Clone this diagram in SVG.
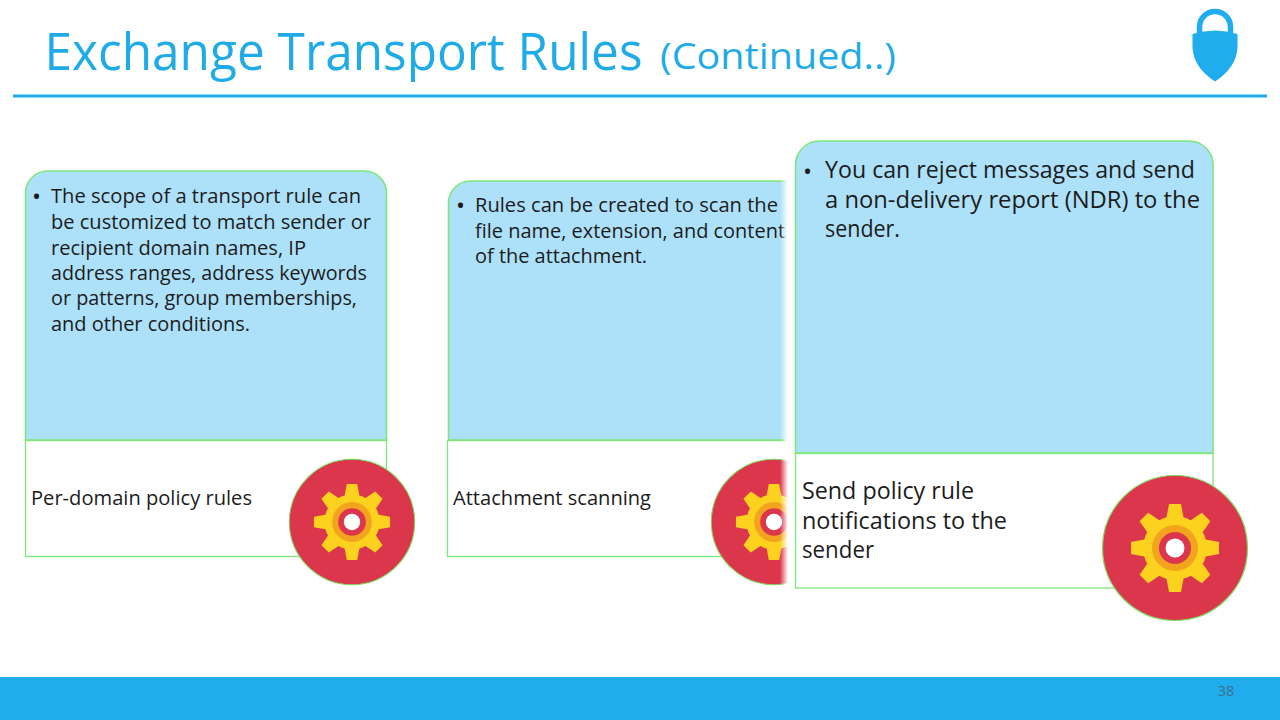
<svg xmlns="http://www.w3.org/2000/svg" xmlns:xlink="http://www.w3.org/1999/xlink" width="1280" height="720" viewBox="0 0 1280 720">
<style>
text{font-family:"Open Sans","Noto Sans","Liberation Sans",sans-serif;fill:#1c1c1c}
.title{fill:#1fabe8}
.blue{fill:#ade0f9;stroke:#7de87a;stroke-width:1.6}
.white{fill:#fff;stroke:#7de87a;stroke-width:1.3}
.b1{font-size:19.5px}
.b3{font-size:23px}
.dot{font-size:24px}
</style>
<defs>
<linearGradient id="fade" x1="0" x2="1" y1="0" y2="0"><stop offset="0" stop-color="#fff" stop-opacity="0"/><stop offset="1" stop-color="#fff"/></linearGradient>
<clipPath id="cut"><rect x="0" y="0" width="788" height="720"/></clipPath>
<polygon id="tooth" points="-9,-28 -6,-44 6,-44 9,-28"/>
<g id="gear">
<circle r="72.5" fill="#dc364c" stroke="#7fd860" stroke-width="1.200"/>
<g fill="#fdd21f">
<circle r="32"/>
<use xlink:href="#tooth"/>
<use xlink:href="#tooth" transform="rotate(45)"/>
<use xlink:href="#tooth" transform="rotate(90)"/>
<use xlink:href="#tooth" transform="rotate(135)"/>
<use xlink:href="#tooth" transform="rotate(180)"/>
<use xlink:href="#tooth" transform="rotate(225)"/>
<use xlink:href="#tooth" transform="rotate(270)"/>
<use xlink:href="#tooth" transform="rotate(315)"/>
</g>
<circle r="23" fill="#f3a41f"/>
<circle r="16" fill="#dc364c"/>
<circle r="9.5" fill="#fff"/>
</g>
</defs>
<rect width="1280" height="720" fill="#fff"/>
<g id="header">
<text class="title" x="44.500" y="70" font-size="51" textLength="598" lengthAdjust="spacingAndGlyphs">Exchange Transport Rules</text>
<text class="title" x="660" y="68.500" font-size="36" textLength="236" lengthAdjust="spacingAndGlyphs">(Continued..)</text>
<line x1="13" y1="96" x2="1267" y2="96" stroke="#1fabe8" stroke-width="3"/>
<g id="lock">
<path d="M1199.500 36V27a15.500 15.500 0 0 1 31 0V36" fill="none" stroke="#1fadee" stroke-width="5.500"/>
<path d="M1192.500 34Q1215 27 1237.500 34V48Q1236 68 1215 81.500Q1194 68 1192.500 48Z" fill="#1fadee"/>
</g>
</g>
<g id="card-1">
<path class="blue" d="M25.500 440V193a22 22 0 0 1 22-22H364.500a22 22 0 0 1 22 22V440Z"/>
<rect class="white" x="25.500" y="440.500" width="361" height="116"/>
<text class="dot" x="32" y="205">•</text>
<text class="b1" x="51" y="203" textLength="310" lengthAdjust="spacingAndGlyphs">The scope of a transport rule can</text>
<text class="b1" x="51" y="229" textLength="320" lengthAdjust="spacingAndGlyphs">be customized to match sender or</text>
<text class="b1" x="51" y="255" textLength="255" lengthAdjust="spacingAndGlyphs">recipient domain names, IP</text>
<text class="b1" x="51" y="280" textLength="316" lengthAdjust="spacingAndGlyphs">address ranges, address keywords</text>
<text class="b1" x="51" y="305" textLength="306" lengthAdjust="spacingAndGlyphs">or patterns, group memberships,</text>
<text class="b1" x="51" y="331" textLength="199" lengthAdjust="spacingAndGlyphs">and other conditions.</text>
<text class="b1" x="31" y="505" textLength="221" lengthAdjust="spacingAndGlyphs">Per-domain policy rules</text>
<use xlink:href="#gear" transform="translate(352 522) scale(.865)"/>
</g>
<g id="card-2">
<g clip-path="url(#cut)">
<path class="blue" d="M448.500 440V203a22 22 0 0 1 22-22H830V440Z"/>
<rect class="white" x="447.500" y="440.500" width="400" height="116"/>
<text class="dot" x="456" y="214">•</text>
<text class="b1" x="475" y="212" textLength="303" lengthAdjust="spacingAndGlyphs">Rules can be created to scan the</text>
<text class="b1" x="475" y="238" textLength="310" lengthAdjust="spacingAndGlyphs">file name, extension, and content</text>
<text class="b1" x="475" y="263" textLength="172" lengthAdjust="spacingAndGlyphs">of the attachment.</text>
<text class="b1" x="453" y="505" textLength="198" lengthAdjust="spacingAndGlyphs">Attachment scanning</text>
<use xlink:href="#gear" transform="translate(774 522) scale(.865)"/>
</g>
<rect x="780" y="130" width="8" height="470" fill="url(#fade)"/>
</g>
<g id="card-3">
<path class="blue" d="M795.500 453V165a24 24 0 0 1 24-24H1189a24 24 0 0 1 24 24V453Z"/>
<rect class="white" x="795.500" y="453.500" width="417.500" height="134.500"/>
<text class="dot" x="803" y="180">•</text>
<text class="b3" x="825" y="178" textLength="370" lengthAdjust="spacingAndGlyphs">You can reject messages and send</text>
<text class="b3" x="825" y="208" textLength="375" lengthAdjust="spacingAndGlyphs">a non-delivery report (NDR) to the</text>
<text class="b3" x="825" y="237" textLength="75" lengthAdjust="spacingAndGlyphs">sender.</text>
<text class="b3" x="802" y="499" textLength="172" lengthAdjust="spacingAndGlyphs">Send policy rule</text>
<text class="b3" x="802" y="529" textLength="205" lengthAdjust="spacingAndGlyphs">notifications to the</text>
<text class="b3" x="802" y="558" textLength="72" lengthAdjust="spacingAndGlyphs">sender</text>
<use xlink:href="#gear" transform="translate(1175 548)"/>
</g>
<g id="footer">
<rect y="677" width="1280" height="43" fill="#1fadee"/>
<text x="1226" y="696" font-size="14.500" text-anchor="middle" style="fill:#3f6f8a">38</text>
</g>
</svg>
